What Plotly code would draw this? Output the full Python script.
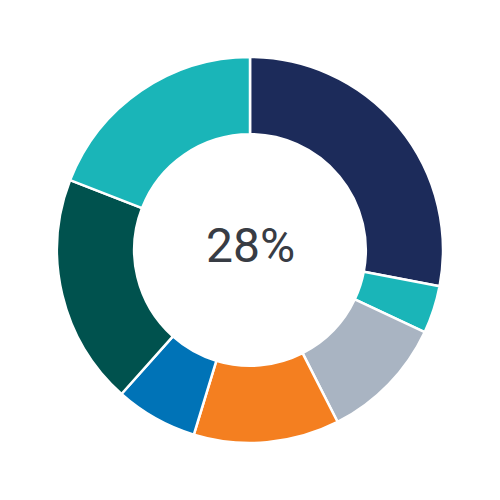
import plotly.graph_objects as go

labels = ["A", "B", "C", "D", "E", "F", "G"]
values = [28.0, 4.0, 10.5, 12.2, 6.9, 19.3, 19.1]
colors = ["#1c2b5a", "#1ab5b8", "#a9b4c2", "#f47f20", "#0073b7", "#00524e", "#1ab5b8"]
center_text = "28%"

fig = go.Figure(go.Pie(
    labels=labels, values=values, hole=0.6, sort=False, direction="clockwise",
    rotation=0, marker=dict(colors=colors, line=dict(color="white", width=2.5)),
    textinfo="none", hoverinfo="label+percent", showlegend=False,
))
fig.add_annotation(text=center_text, x=0.5, y=0.5, xref="paper", yref="paper", yshift=5,
                   showarrow=False, font=dict(family="Roboto", size=48, color="#383c44"))
fig.update_layout(width=500, height=500, margin=dict(l=49, r=65, t=49, b=65),
                  paper_bgcolor="white", plot_bgcolor="white")
fig.write_html("out.html")
